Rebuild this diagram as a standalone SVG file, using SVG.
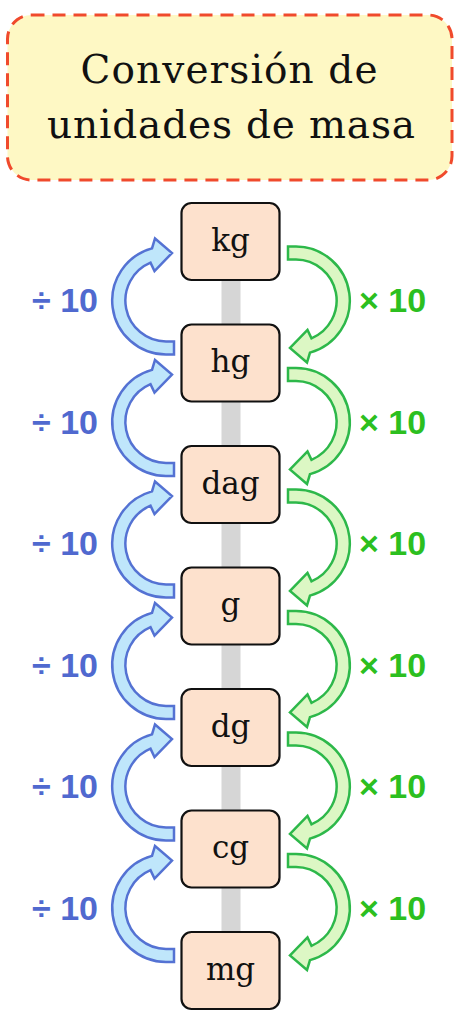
<svg xmlns="http://www.w3.org/2000/svg" xmlns:xlink="http://www.w3.org/1999/xlink" width="459" height="1024" viewBox="0 0 459 1024">
<style>
.title{font-family:"DejaVu Serif","Liberation Serif",serif;font-size:39px;fill:#111;text-anchor:middle}
.unit{font-family:"DejaVu Serif","Liberation Serif",serif;font-size:31px;fill:#111;text-anchor:middle}
.box{fill:#fde1cd;stroke:#111;stroke-width:2.2}
.bar{fill:#d6d6d6}
.div{font-family:"Liberation Sans","Noto Sans",sans-serif;font-weight:bold;font-size:34px;fill:#5069cf;text-anchor:end}
.mul{font-family:"Liberation Sans","Noto Sans",sans-serif;font-weight:bold;font-size:34px;fill:#2cbf1f;text-anchor:start}
.up{fill:#bfe6fb;stroke:#5472d3;stroke-width:2.5;stroke-linejoin:miter}
.down{fill:#dcf7c4;stroke:#2db84a;stroke-width:2.5;stroke-linejoin:miter}
</style>
<defs>
<path id="arc" d="M 174 354.5 L 166 354.5 A 54 54 0 0 1 152 248.4 L 155 238.5 L 172 253 L 154.5 271 L 150.5 262.7 A 41 41 0 0 0 166 341.5 L 174 341.5 Z"/>
<g id="pair">
<use xlink:href="#arc" class="up"/>
<use xlink:href="#arc" class="down" transform="rotate(180 231 300.5)"/>
<text class="div" x="98" y="312">÷ 10</text>
<text class="mul" x="359" y="312">× 10</text>
</g>
</defs>
<g id="title">
<rect x="7.5" y="15" width="444.5" height="165" rx="24" fill="#fef8c4" stroke="#f04a2c" stroke-width="3" stroke-dasharray="13 8"/>
<text class="title" x="229" y="83" textLength="297" lengthAdjust="spacing">Conversión de</text>
<text class="title" x="231" y="138" textLength="368" lengthAdjust="spacing">unidades de masa</text>
</g>
<g id="connectors">
<rect class="bar" x="221.5" y="280" width="19" height="44.5"/>
<rect class="bar" x="221.5" y="401.5" width="19" height="44.5"/>
<rect class="bar" x="221.5" y="523" width="19" height="44.5"/>
<rect class="bar" x="221.5" y="644.5" width="19" height="44.5"/>
<rect class="bar" x="221.5" y="766" width="19" height="44.5"/>
<rect class="bar" x="221.5" y="887.5" width="19" height="44.5"/>
<use xlink:href="#pair"/>
<use xlink:href="#pair" transform="translate(0 121.5)"/>
<use xlink:href="#pair" transform="translate(0 243)"/>
<use xlink:href="#pair" transform="translate(0 364.5)"/>
<use xlink:href="#pair" transform="translate(0 486)"/>
<use xlink:href="#pair" transform="translate(0 607.5)"/>
</g>
<g id="node-kg"><rect class="box" x="181.5" y="203" width="98" height="77" rx="10"/><text class="unit" x="230.5" y="250.5">kg</text></g>
<g id="node-hg"><rect class="box" x="181.5" y="324.5" width="98" height="77" rx="10"/><text class="unit" x="230.5" y="372">hg</text></g>
<g id="node-dag"><rect class="box" x="181.5" y="446" width="98" height="77" rx="10"/><text class="unit" x="230.5" y="493.5">dag</text></g>
<g id="node-g"><rect class="box" x="181.5" y="567.5" width="98" height="77" rx="10"/><text class="unit" x="230.5" y="615">g</text></g>
<g id="node-dg"><rect class="box" x="181.5" y="689" width="98" height="77" rx="10"/><text class="unit" x="230.5" y="736.5">dg</text></g>
<g id="node-cg"><rect class="box" x="181.5" y="810.5" width="98" height="77" rx="10"/><text class="unit" x="230.5" y="858">cg</text></g>
<g id="node-mg"><rect class="box" x="181.5" y="932" width="98" height="77" rx="10"/><text class="unit" x="230.5" y="979.5">mg</text></g>
</svg>
